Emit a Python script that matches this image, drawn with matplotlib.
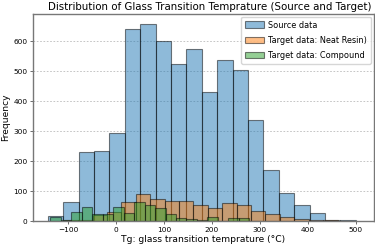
import numpy as np
import matplotlib
matplotlib.use("Agg")
import matplotlib.pyplot as plt

# Source data histogram (20 bins)
source_range = (-142, 500)
source_counts = [17, 64, 230, 235, 293, 639, 657, 599, 525, 575,
                 430, 538, 502, 338, 170, 92, 53, 26, 5, 4]

# Target data: Neat Resin (20 bins)
resin_range = (-109, 492)
resin_counts = [5, 3, 20, 31, 64, 89, 72, 66, 68, 55,
                42, 61, 53, 33, 25, 14, 7, 5, 2, 1]

# Target data: Compound (20 bins)
compound_range = (-137, 300)
compound_counts = [12, 2, 30, 47, 22, 25, 47, 27, 63, 55,
                   42, 23, 9, 6, 2, 14, 1, 9, 9, 1]

labels = ["Source data", "Target data: Neat Resin)", "Target data: Compound"]
colors = ["#1f77b4", "#ff7f0e", "#2ca02c"]
x_ticks = [-100, 0, 100, 200, 300, 400, 500]
y_ticks = [0, 100, 200, 300, 400, 500, 600]

fig = plt.figure(figsize=(3.75, 2.47), dpi=100)
ax = fig.add_axes([0.088, 0.105, 0.908, 0.838])

for (lo, hi), counts, lab, col in zip(
        [source_range, resin_range, compound_range],
        [source_counts, resin_counts, compound_counts], labels, colors):
    edges = np.linspace(lo, hi, len(counts) + 1)
    centers = (edges[:-1] + edges[1:]) / 2
    ax.hist(centers, bins=edges, weights=counts, color=col, alpha=0.5,
            edgecolor="black", linewidth=0.8, label=lab)

ax.set_xlim(-173, 537)
ax.set_xticks(x_ticks)
ax.set_yticks(y_ticks)
ax.tick_params(labelsize=5.3, length=2.5, width=0.6, pad=1.5, color="#555555")
ax.grid(axis="y", linestyle=(0, (2, 2)), color="#bbbbbb", linewidth=0.6)
ax.set_axisbelow(True)
for s in ax.spines.values():
    s.set_color("#777777")
    s.set_linewidth(1.0)

ax.set_title("Distribution of Glass Transition Temprature (Source and Target)",
             fontsize=7.4, pad=3, x=0.52)
ax.set_xlabel("Tg: glass transition temprature (\u00b0C)", fontsize=6.6, labelpad=2)
ax.set_ylabel("Frequency", fontsize=6.6, labelpad=2)
ax.legend(fontsize=5.9, loc="upper right", frameon=True, handlelength=2.3,
          handleheight=0.9, borderpad=0.5, labelspacing=0.75, handletextpad=0.5,
          borderaxespad=0.3)

fig.savefig("out.png", dpi=100)
